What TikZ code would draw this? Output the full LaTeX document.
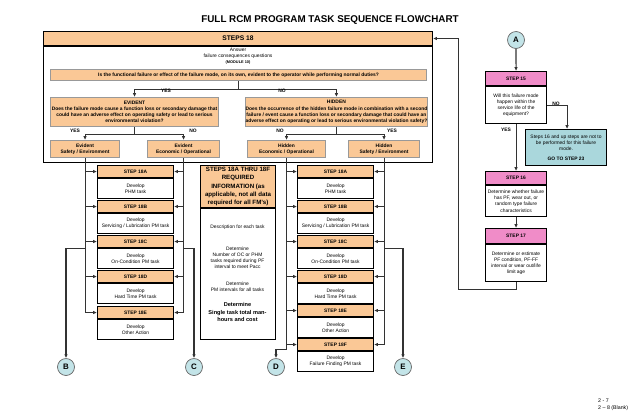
\documentclass[tikz,border=0pt]{standalone}
\usepackage{fontspec}
\setmainfont{Liberation Sans}
\usetikzlibrary{arrows.meta}
\definecolor{Naranja}{RGB}{250, 200, 150}
\definecolor{Rosa}{RGB}{240, 140, 200}
\definecolor{Turquesa}{RGB}{170, 215, 220}
\definecolor{Circulo}{RGB}{195, 228, 232}
\tikzset{
  txt/.style={font=\fontsize{2.8}{3.5}\selectfont, align=center, inner sep=0pt},
  btxt/.style={txt, font=\fontsize{2.8}{3.5}\selectfont\bfseries},
  caja/.style={draw, line width=0.6pt, anchor=north west, inner sep=0pt},
  cabeza/.style={caja, fill=Naranja, font=\fontsize{2.8}{3.5}\selectfont\bfseries, align=center},
  cuerpo/.style={caja, fill=white, font=\fontsize{2.8}{3.5}\selectfont, align=center},
  conector/.style={line width=0.6pt, draw=black!80},
  flecha/.style={conector, -{Latex[length=2.2pt,width=2pt]}},
  letra/.style={circle, draw=black!60, fill=Circulo, minimum size=0.34cm, inner sep=0pt, font=\fontsize{4.5}{5}\selectfont\bfseries},
}
% caja de paso: nombre, x, y, ancho, alto cabeza, alto cuerpo, titulo, texto
\newcommand{\Paso}[9][Naranja]{%
  \node[cabeza, fill=#1, minimum width=#5*0.02cm, minimum height=#6*0.02cm] (#2) at (#3,#4) {#8};
  \node[cuerpo, minimum width=#5*0.02cm, minimum height=#7*0.02cm] (#2b) at (#2.south west) {#9};
}
\begin{document}
\begin{tikzpicture}[x=0.02cm, y=-0.02cm]
  \useasboundingbox (0,0) rectangle (638,413);
  % titulo
  \node[font=\fontsize{5.6}{6.5}\selectfont\bfseries] (titulo) at (330,20) {FULL RCM PROGRAM TASK SEQUENCE FLOWCHART};
  % paso 18
  \node[cabeza, minimum width=389*0.02cm, minimum height=14*0.02cm, font=\fontsize{3.8}{4.5}\selectfont\bfseries] (s18) at (43,31) {STEPS 18};
  \node[caja, minimum width=389*0.02cm, minimum height=116*0.02cm] (s18b) at (s18.south west) {};
  \node[txt] (resp) at (238,56) {Answer\\failure consequences questions\\{\fontsize{2.2}{2.8}\selectfont\bfseries (MODULE 10)}};
  \node[cabeza, draw=black!40, minimum width=376*0.02cm, minimum height=11*0.02cm] (preg) at (50,69) {Is the functional failure or effect of the failure mode, on its own, evident to the operator while performing normal duties?};
  \node[cabeza, draw=black!40, minimum width=168*0.02cm, minimum height=29*0.02cm] (evid) at (50,97) {EVIDENT\\Does the failure mode cause a function loss or secondary damage that\\could have an adverse effect on operating safety or lead to serious\\environmental violation?};
  \node[cabeza, draw=black!40, minimum width=181*0.02cm, minimum height=29*0.02cm] (ocul) at (245,97) {HIDDEN\\Does the occurrence of the hidden failure mode in combination with a second\\failure / event cause a function loss or secondary damage that could have an\\adverse effect on operating or lead to serious environmental violation safety?};
  \node[cabeza, draw=black!40, minimum width=69*0.02cm, minimum height=17*0.02cm] (evseg) at (50,140) {Evident\\Safety / Environment};
  \node[cabeza, draw=black!40, minimum width=72*0.02cm, minimum height=17*0.02cm] (evec) at (147,140) {Evident\\Economic / Operational};
  \node[cabeza, draw=black!40, minimum width=78*0.02cm, minimum height=17*0.02cm] (ocec) at (247,140) {Hidden\\Economic / Operational};
  \node[cabeza, draw=black!40, minimum width=71*0.02cm, minimum height=17*0.02cm] (ocseg) at (348,140) {Hidden\\Safety / Environment};
  \draw[conector] (preg.south) -- ++(0,8) coordinate (ps);
  \draw[flecha] (ps) -| (evid.north);
  \draw[flecha] (ps) -| (ocul.north);
  \node[btxt] (si1) at (166,91) {YES};
  \node[btxt] (no1) at (282,91) {NO};
  \draw[conector] (evid.south) -- ++(0,7) coordinate (es);
  \draw[flecha] (es) -| (evseg.north);
  \draw[flecha] (es) -| (evec.north);
  \draw[conector] (ocul.south) -- ++(0,7) coordinate (os);
  \draw[flecha] (os) -| (ocec.north);
  \draw[flecha] (os) -| (ocseg.north);
  \node[btxt] (si2) at (75,131) {YES};
  \node[btxt] (no2) at (193,131) {NO};
  \node[btxt] (no3) at (280,131) {NO};
  \node[btxt] (si3) at (392,131) {YES};
  % pasos 18A-18E, izquierda
  \Paso{la}{97}{165}{76}{12}{20}{STEP 18A}{Develop\\PHM task}
  \Paso{lb}{97}{200}{76}{12}{20}{STEP 18B}{Develop\\Servicing / Lubrication PM task}
  \Paso{lc}{97}{235}{76}{12}{20}{STEP 18C}{Develop\\On-Condition  PM task}
  \Paso{ld}{97}{270}{76}{12}{20}{STEP 18D}{Develop\\Hard Time PM task}
  \Paso{le}{97}{306}{76}{12}{20}{STEP 18E}{Develop\\Other Action}
  % info requerida
  \node[cabeza, minimum width=75*0.02cm, minimum height=42*0.02cm, font=\fontsize{3.5}{4.6}\selectfont\bfseries] (info) at (200,165) {STEPS 18A THRU 18F\\REQUIRED\\INFORMATION (as\\applicable, not all data\\required for all FM's)};
  \node[cuerpo, minimum width=75*0.02cm, minimum height=131*0.02cm] (infob) at (info.south west) {};
  \node[txt] (i1) at (237.5,227) {Description for each task};
  \node[txt] (i2) at (237.5,258) {Determine\\Number of  OC or PHM\\tasks required during PF\\interval to meet Pacc};
  \node[txt] (i3) at (237.5,287) {Determine\\PM intervals for all tasks};
  \node[btxt, font=\fontsize{3.2}{4.1}\selectfont\bfseries] (i4) at (237.5,312) {Determine\\Single task total man-\\hours and cost};
  % pasos 18A-18F, derecha
  \Paso{ra}{297}{165}{76}{12}{20}{STEP 18A}{Develop\\PHM task}
  \Paso{rb}{297}{200}{76}{12}{20}{STEP 18B}{Develop\\Servicing / Lubrication PM task}
  \Paso{rc}{297}{235}{76}{12}{20}{STEP 18C}{Develop\\On-Condition  PM task}
  \Paso{rd}{297}{270}{76}{12}{20}{STEP 18D}{Develop\\Hard Time PM task}
  \Paso{re}{297}{304}{76}{12}{20}{STEP 18E}{Develop\\Other Action}
  \Paso{rf}{297}{338}{76}{12}{20}{STEP 18F}{Develop\\Failure Finding PM task}
  % conectores
  \node[letra] (B) at (66,367) {B};
  \node[letra] (C) at (194,367) {C};
  \node[letra] (D) at (276,367) {D};
  \node[letra] (E) at (403,367) {E};
  \draw[conector] (evseg.south) -- (le.west -| evseg.south);
  \draw[conector] (evec.south) -- (le.east -| evec.south);
  \foreach \p in {la,lb,lc,ld,le} {
    \draw[flecha] (\p.west -| evseg.south) -- (\p.west);
    \draw[flecha] (\p.east -| evec.south) -- (\p.east);
  }
  \draw[flecha] (lc.south -| evseg.south) -| (B.north);
  \draw[flecha] (lc.south -| evec.south) -| (C.north);
  \draw[conector] (ocec.south) -- ++(0,191) coordinate (dd);
  \draw[conector] (ocseg.south) -- (rf.east -| ocseg.south);
  \foreach \p in {ra,rb,rc,rd,re,rf} {
    \draw[flecha] (\p.west -| ocec.south) -- (\p.west);
    \draw[flecha] (\p.east -| ocseg.south) -- (\p.east);
  }
  \draw[flecha] (dd) -| (D.north);
  \draw[flecha] (lc.south -| ocseg.south) -| (E.north);
  % columna derecha
  \node[letra] (A) at (516,40) {A};
  \Paso[Rosa]{p15}{485}{71}{61}{14}{37}{STEP 15}{Will this failure mode\\happen within the\\service life of the\\equipment?}
  \Paso[Rosa]{p16}{485}{171}{61}{13}{31}{STEP 16}{Determine whether failure\\has PF, wear out, or\\random type failure\\characteristics}
  \Paso[Rosa]{p17}{485}{228}{61}{15}{37}{STEP 17}{Determine or estimate\\PF condition, PF-FF\\interval or wear out/life\\limit age}
  \node[caja, fill=Turquesa, minimum width=81*0.02cm, minimum height=36*0.02cm, font=\fontsize{2.8}{3.5}\selectfont, align=center] (salto) at (525,129) {Steps 16 and up steps are not to\\be performed for this failure\\mode.\\[2pt]\textbf{GO TO STEP 23}};
  \draw[flecha] (A) -- (p15);
  \draw[flecha] (p15b.south) -- (p16.north);
  \draw[flecha] (p16b.south) -- (p17.north);
  \draw[flecha] (p15b.east) -- ++(20,0) coordinate (pn) -- (salto.north -| pn);
  \node[btxt] (no4) at (556,104) {NO};
  \node[btxt] (si4) at (506,130) {YES};
  \draw[flecha] (p17b.south) -- ++(0,7) -- ++(-58,0) coordinate (rg) -- (rg |- s18.east) -- (s18.east);
  % pie
  \node[font=\fontsize{3}{3.8}\selectfont, align=left, anchor=north west] (pag) at (592,393) {2 - 7\\2 -- 8 (Blank)};
\end{tikzpicture}
\end{document}
